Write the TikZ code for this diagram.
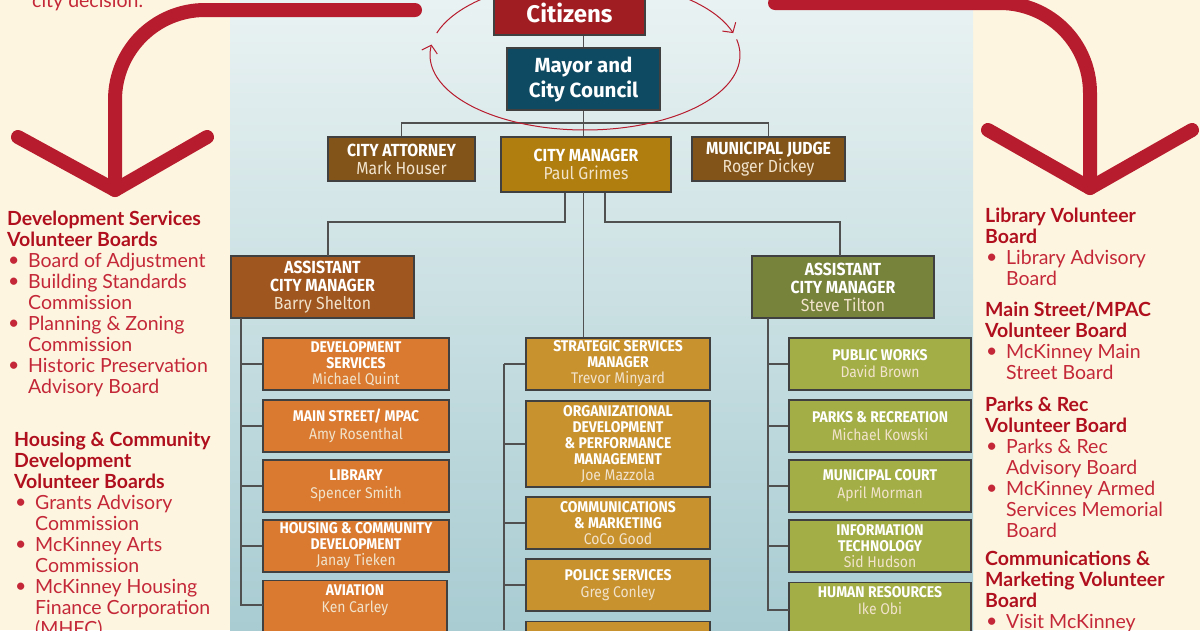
\documentclass[tikz,border=0pt]{standalone}
\usepackage{fontspec}
\setmainfont{Lato}
\newfontfamily\orgfont[FakeStretch=0.9]{Fira Sans}
\newfontfamily\orgwide{Fira Sans}
\usetikzlibrary{arrows.meta}
\definecolor{cream}{HTML}{FDF5E0}
\definecolor{bigred}{HTML}{B71C2E}
\definecolor{hdred}{HTML}{B0101E}
\definecolor{itred}{HTML}{C42838}
\definecolor{citz}{HTML}{A01E22}
\definecolor{mayor}{HTML}{0F4A63}
\definecolor{brn}{HTML}{82541A}
\definecolor{cmgr}{HTML}{B07E0E}
\definecolor{acml}{HTML}{A0561F}
\definecolor{acmr}{HTML}{77823A}
\definecolor{orng}{HTML}{D97A30}
\definecolor{gold}{HTML}{C8922F}
\definecolor{olive}{HTML}{A3AE46}
\definecolor{bline}{HTML}{505050}
\definecolor{nmc}{HTML}{F1E3CC}
\definecolor{bgtop}{HTML}{E9F2F2}
\definecolor{bgbot}{HTML}{A8CCD2}
\tikzset{
 obox/.style={draw=bline!80!black, line width=1.3pt, align=center, inner sep=0pt, text=white, font=\orgfont\bfseries\fontsize{17.5}{18}\selectfont},
 sbox/.style={obox, minimum width=184, minimum height=52, font=\orgfont\bfseries\fontsize{15.5}{16}\selectfont},
 conn/.style={draw=bline, line width=1.3pt},
 bigarrow/.style={draw=bigred, line width=14pt, line cap=round, line join=round},
 thin/.style={draw=bigred, line width=1pt, -{Straight Barb[length=7pt,width=16pt]}},
 hd/.style={anchor=north west, align=left, inner sep=0pt, text=hdred, font=\bfseries\fontsize{19.5}{21}\selectfont},
 it/.style={anchor=north west, align=left, inner sep=0pt, text=itred, font=\fontsize{19.5}{21}\selectfont},
}
\newcommand{\nm}[1]{{\color{nmc}\mdseries #1}}
\newcommand{\bl}{\makebox[21pt][l]{\hspace{1pt}\raisebox{1pt}{\textbullet}}}
\newcommand{\cl}{\hspace*{21pt}}
\begin{document}
\begin{tikzpicture}[x=1pt,y=-1pt]
\useasboundingbox (0,0) rectangle (1200,630);
\fill[cream] (0,0) rectangle (1200,630);
\shade[top color=bgtop, bottom color=bgbot] (230,0) rectangle (973,630);

% big arrows
\draw[bigarrow] (415,10) -- (205,10) arc[start angle=270, end angle=180, radius=90] -- (115,190);
\draw[bigarrow] (18,137) -- (115,190) -- (207,137);
\draw[bigarrow] (775,3) -- (1000,3) arc[start angle=270, end angle=360, radius=90] -- (1090,188);
\draw[bigarrow] (988,130) -- (1090,188) -- (1192,130);

% top boxes
\node[obox, fill=citz, minimum width=151, minimum height=45, font=\orgwide\bfseries\fontsize{24}{24}\selectfont] (cit) at (569.5,12.5) {\raisebox{-4pt}{Citizens}};
\node[obox, fill=mayor, minimum width=153, minimum height=62, font=\orgwide\bfseries\fontsize{20.5}{25}\selectfont] (may) at (583.5,79) {Mayor and\\City Council};
\node[obox, fill=brn, minimum width=147, minimum height=44] (att) at (401.5,159) {CITY ATTORNEY\\\nm{Mark Houser}};
\node[obox, fill=cmgr, minimum width=170, minimum height=55] (cm) at (586,164.5) {CITY MANAGER\\\nm{Paul Grimes}};
\node[obox, fill=brn, minimum width=153, minimum height=44] (jud) at (768.5,159) {MUNICIPAL JUDGE\\\nm{Roger Dickey}};
\node[obox, fill=acml, minimum width=183, minimum height=62] (acl) at (322.5,287) {ASSISTANT\\CITY MANAGER\\\nm{Barry Shelton}};
\node[obox, fill=acmr, minimum width=182, minimum height=62] (acr) at (843,287) {ASSISTANT\\CITY MANAGER\\\nm{Steve Tilton}};

% left column
\node[sbox, fill=orng, minimum width=186] (l1) at (356,364) {DEVELOPMENT\\SERVICES\\\nm{Michael Quint}};
\node[sbox, fill=orng, minimum width=186, font=\orgfont\bfseries\fontsize{15.5}{18}\selectfont] (l2) at (356,426) {MAIN STREET/ MPAC\\\nm{Amy Rosenthal}};
\node[sbox, fill=orng, minimum width=186, font=\orgfont\bfseries\fontsize{15.5}{18}\selectfont] (l3) at (356,486) {LIBRARY\\\nm{Spencer Smith}};
\node[sbox, fill=orng, minimum width=186] (l4) at (356,546) {HOUSING \& COMMUNITY\\DEVELOPMENT\\\nm{Janay Tieken}};
\node[sbox, fill=orng, minimum height=60, anchor=north, font=\orgfont\bfseries\fontsize{15.5}{17}\selectfont] (l5) at (355,580) {\\[-2pt]AVIATION\\\nm{Ken Carley}\\ \\};

% middle column
\node[sbox, fill=gold] (m1) at (618,364) {STRATEGIC SERVICES\\MANAGER\\\nm{Trevor Minyard}};
\node[sbox, fill=gold, minimum height=86] (m2) at (618,444) {ORGANIZATIONAL\\DEVELOPMENT\\\& PERFORMANCE\\MANAGEMENT\\\nm{Joe Mazzola}};
\node[sbox, fill=gold] (m3) at (618,523) {COMMUNICATIONS\\\& MARKETING\\\nm{CoCo Good}};
\node[sbox, fill=gold, font=\orgfont\bfseries\fontsize{15.5}{17}\selectfont] (m4) at (618,585) {POLICE SERVICES\\\nm{Greg Conley}};
\node[sbox, fill=gold, minimum height=30, anchor=north] (m5) at (618,621) {};

% right column
\node[sbox, fill=olive, minimum width=182, font=\orgfont\bfseries\fontsize{15.5}{17}\selectfont] (r1) at (880,364) {PUBLIC WORKS\\\nm{David Brown}};
\node[sbox, fill=olive, minimum width=182, font=\orgfont\bfseries\fontsize{15.5}{18}\selectfont] (r2) at (880,426) {PARKS \& RECREATION\\\nm{Michael Kowski}};
\node[sbox, fill=olive, minimum width=182, font=\orgfont\bfseries\fontsize{15.5}{18}\selectfont] (r3) at (880,486) {MUNICIPAL COURT\\\nm{April Morman}};
\node[sbox, fill=olive, minimum width=182] (r4) at (880,546) {INFORMATION\\TECHNOLOGY\\\nm{Sid Hudson}};
\node[sbox, fill=olive, minimum width=182, minimum height=60, anchor=north, font=\orgfont\bfseries\fontsize{15.5}{17}\selectfont] (r5) at (880,582) {\\[-2pt]HUMAN RESOURCES\\\nm{Ike Obi}\\ \\};

% connectors
\coordinate (barr) at (768.5,123);
\draw[conn] (cit.south -| may.north) -- (may.north);
\draw[conn] (may.south) -- (may.south |- cm.north);
\draw[conn] (att.north) |- (barr) -- (jud.north);
\coordinate (cml) at (565,222);
\coordinate (cmr) at (605,222);
\coordinate (acltop) at (328,256);
\coordinate (acrtop) at (840,256);
\draw[conn] (cm.south -| cml) -- (cml) -- (cml -| acltop) -- (acltop);
\draw[conn] (cm.south -| cmr) -- (cmr) -- (cmr -| acrtop) -- (acrtop);
\coordinate (cmc) at (583.5,192);
\draw[conn] (cmc) -- (cmc |- m1.north);
\coordinate (ls) at (241,318);
\coordinate (ms) at (504,364);
\coordinate (rs) at (768,318);
\foreach \b in {l1,l2,l3,l4}{\draw[conn] (ls) |- (\b.west);}
\coordinate (l5w) at (263,605);
\draw[conn] (ls) |- (l5w);
\coordinate (mbot) at (504,630);
\draw[conn] (ms) -- (mbot);
\foreach \b in {m1,m2,m3,m4}{\draw[conn] (ms |- \b.west) -- (\b.west);}
\foreach \b in {r1,r2,r3,r4}{\draw[conn] (rs) |- (\b.west);}
\coordinate (r5w) at (789,610);
\draw[conn] (rs) |- (r5w);

% thin ellipse arrows
\draw[thin] plot[domain=-12:188, samples=90, smooth] ({585+155*cos(\x)},{55+75*sin(\x)});
\draw[thin] plot[domain=197:343, samples=70, smooth] ({585+155*cos(\x)},{55+75*sin(\x)});

% side texts
\node[it, anchor=base west] (top) at (32,7) {city decision.};
\node[hd] (h1) at (7,211) {Development Services\\Volunteer Boards};
\node[it] (i1) at (7,253) {\bl Board of Adjustment\\\bl Building Standards\\\cl Commission\\\bl Planning \& Zoning\\\cl Commission\\\bl Historic Preservation\\\cl Advisory Board};
\node[hd] (h2) at (14,432) {Housing \& Community\\Development\\Volunteer Boards};
\node[it] (i2) at (14,495) {\bl Grants Advisory\\\cl Commission\\\bl McKinney Arts\\\cl Commission\\\bl McKinney Housing\\\cl Finance Corporation\\\cl (MHFC)};
\node[hd] (h3) at (985,208) {Library Volunteer\\Board};
\node[it] (i3) at (985,250) {\bl Library Advisory\\\cl Board};
\node[hd] (h4) at (985,302) {Main Street/MPAC\\Volunteer Board};
\node[it] (i4) at (985,344) {\bl McKinney Main\\\cl Street Board};
\node[hd] (h5) at (985,397) {Parks \& Rec\\Volunteer Board};
\node[it] (i5) at (985,439) {\bl Parks \& Rec\\\cl Advisory Board\\\bl McKinney Armed\\\cl Services Memorial\\\cl Board};
\node[hd] (h6) at (985,551) {Communications \&\\Marketing Volunteer\\Board};
\node[it] (i6) at (985,614) {\bl Visit McKinney};
\end{tikzpicture}
\end{document}
